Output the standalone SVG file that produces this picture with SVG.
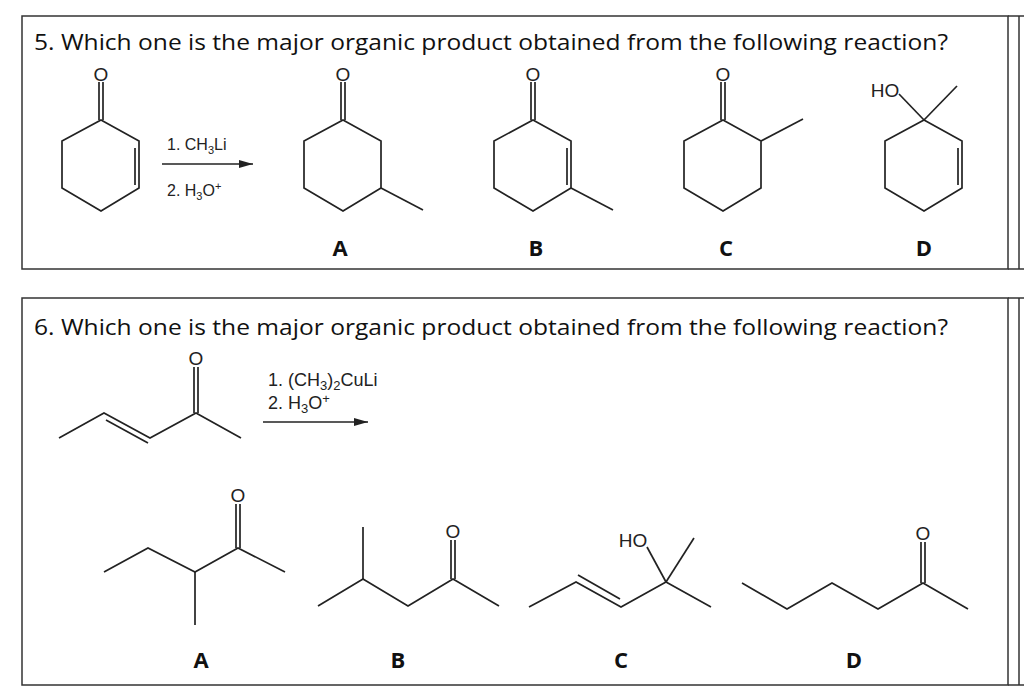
<svg xmlns="http://www.w3.org/2000/svg" width="1024" height="696" viewBox="0 0 1024 696">
<defs>
<style>
.b{fill:none;stroke:#222;stroke-width:1.7;stroke-linejoin:miter;stroke-linecap:butt}
.box{fill:none;stroke:#333;stroke-width:1.5}
.q{font-family:"Open Sans",sans-serif;font-size:22px;fill:#111}
.atom{font-family:"Liberation Sans",Arial,sans-serif;font-size:19px;fill:#222;text-anchor:middle}
.r{font-family:"Liberation Sans",Arial,sans-serif;font-size:16px;fill:#222}
.r2{font-family:"Liberation Sans",Arial,sans-serif;font-size:18px;fill:#222}
.lab{font-family:"Open Sans",sans-serif;font-size:22px;font-weight:bold;fill:#111;text-anchor:middle}
</style>
<marker id="ah" viewBox="0 0 14 8" refX="14" refY="4" markerWidth="14" markerHeight="8" markerUnits="userSpaceOnUse" orient="auto"><path d="M0,0L14,4L0,8Z" fill="#222"/></marker>
</defs>
<rect width="1024" height="696" fill="#fff"/>
<rect class="box" x="22" y="16" width="986" height="253"/>
<rect class="box" x="22" y="298" width="986" height="387"/>
<line class="box" x1="1019" y1="16" x2="1019" y2="269"/>
<line class="box" x1="1019" y1="298" x2="1019" y2="685"/>
<line class="box" x1="1008" y1="16" x2="1024" y2="16"/>
<line class="box" x1="1008" y1="298" x2="1024" y2="298"/>
<line class="box" x1="1008" y1="269" x2="1024" y2="269"/>
<line class="box" x1="1008" y1="685" x2="1024" y2="685"/>

<text class="q" x="34" y="50" textLength="914" lengthAdjust="spacingAndGlyphs">5. Which one is the major organic product obtained from the following reaction?</text>
<text class="q" x="34" y="335" textLength="914" lengthAdjust="spacingAndGlyphs">6. Which one is the major organic product obtained from the following reaction?</text>

<g id="q5-start">
<path class="b" d="M101,120L139,141L139,188L101,211L62,188L62,141Z"/>
<line class="b" x1="135" y1="148" x2="135" y2="185"/>
<line class="b" x1="99" y1="120" x2="99" y2="82"/><line class="b" x1="103" y1="120" x2="103" y2="82"/>
<text class="atom" x="101" y="81">O</text>
</g>
<g id="connectors">
<line class="b" x1="162" y1="164" x2="253" y2="164" marker-end="url(#ah)"/>
<line class="b" x1="263" y1="422" x2="368" y2="422" marker-end="url(#ah)"/>
</g>
<g id="q5-reagents">
<text class="r" x="167" y="150">1. CH<tspan font-size="11" dy="4">3</tspan><tspan dy="-4">Li</tspan></text>
<text class="r" x="167" y="196">2. H<tspan font-size="11" dy="4">3</tspan><tspan dy="-4">O</tspan><tspan font-size="11" dy="-6">+</tspan></text>
</g>
<g id="q5-A">
<path class="b" d="M343,120L381,141L381,188L343,211L304,188L304,141Z"/>
<line class="b" x1="381" y1="188" x2="423" y2="210"/>
<line class="b" x1="341" y1="120" x2="341" y2="82"/><line class="b" x1="345" y1="120" x2="345" y2="82"/>
<text class="atom" x="343" y="81">O</text>
<text class="lab" x="340" y="256">A</text>
</g>
<g id="q5-B">
<path class="b" d="M533,120L571,141L571,188L533,211L494,188L494,141Z"/>
<line class="b" x1="567" y1="148" x2="567" y2="185"/>
<line class="b" x1="571" y1="188" x2="613" y2="210"/>
<line class="b" x1="531" y1="120" x2="531" y2="82"/><line class="b" x1="535" y1="120" x2="535" y2="82"/>
<text class="atom" x="533" y="81">O</text>
<text class="lab" x="536" y="256">B</text>
</g>
<g id="q5-C">
<path class="b" d="M723,120L761,141L761,188L723,211L684,188L684,141Z"/>
<line class="b" x1="761" y1="141" x2="803" y2="119"/>
<line class="b" x1="721" y1="120" x2="721" y2="82"/><line class="b" x1="725" y1="120" x2="725" y2="82"/>
<text class="atom" x="723" y="81">O</text>
<text class="lab" x="726" y="256">C</text>
</g>
<g id="q5-D">
<path class="b" d="M924,120L962,141L962,188L924,211L885,188L885,141Z"/>
<line class="b" x1="958" y1="148" x2="958" y2="185"/>
<line class="b" x1="899" y1="94" x2="924" y2="120"/>
<line class="b" x1="924" y1="120" x2="957" y2="86"/>
<text class="atom" x="885" y="97">HO</text>
<text class="lab" x="924" y="256">D</text>
</g>

<g id="q6-start">
<path class="b" d="M59,438L104,413L150,438L196,413L241,438"/>
<line class="b" x1="106" y1="420" x2="148" y2="443"/>
<line class="b" x1="194" y1="413" x2="194" y2="367"/><line class="b" x1="198" y1="413" x2="198" y2="367"/>
<text class="atom" x="196" y="365">O</text>
</g>
<g id="q6-reagents">
<text class="r2" x="268" y="386">1. (CH<tspan font-size="13" dy="4">3</tspan><tspan dy="-4">)</tspan><tspan font-size="13" dy="4">2</tspan><tspan dy="-4">CuLi</tspan></text>
<text class="r2" x="268" y="409">2. H<tspan font-size="13" dy="4">3</tspan><tspan dy="-4">O</tspan><tspan font-size="13" dy="-6">+</tspan></text>
</g>
<g id="q6-A">
<path class="b" d="M104,572L148,548L195,572L238,548L285,572"/>
<line class="b" x1="195" y1="572" x2="195" y2="625"/>
<line class="b" x1="236" y1="548" x2="236" y2="504"/><line class="b" x1="240" y1="548" x2="240" y2="504"/>
<text class="atom" x="238" y="502">O</text>
<text class="lab" x="201" y="668">A</text>
</g>
<g id="q6-B">
<path class="b" d="M318,606L363,579L408,606L453,579L499,606"/>
<line class="b" x1="363" y1="579" x2="363" y2="527"/>
<line class="b" x1="451" y1="579" x2="451" y2="540"/><line class="b" x1="455" y1="579" x2="455" y2="540"/>
<text class="atom" x="453" y="538">O</text>
<text class="lab" x="398" y="668">B</text>
</g>
<g id="q6-C">
<path class="b" d="M529,607L576,582L621,607L666,582L711,607"/>
<line class="b" x1="578" y1="575" x2="620" y2="599"/>
<line class="b" x1="666" y1="582" x2="647" y2="547"/>
<line class="b" x1="666" y1="582" x2="694" y2="538"/>
<text class="atom" x="633" y="547">HO</text>
<text class="lab" x="621" y="668">C</text>
</g>
<g id="q6-D">
<path class="b" d="M742,583L787,609L832,583L878,609L923,583L968,609"/>
<line class="b" x1="921" y1="583" x2="921" y2="542"/><line class="b" x1="925" y1="583" x2="925" y2="542"/>
<text class="atom" x="923" y="540">O</text>
<text class="lab" x="854" y="668">D</text>
</g>
</svg>
